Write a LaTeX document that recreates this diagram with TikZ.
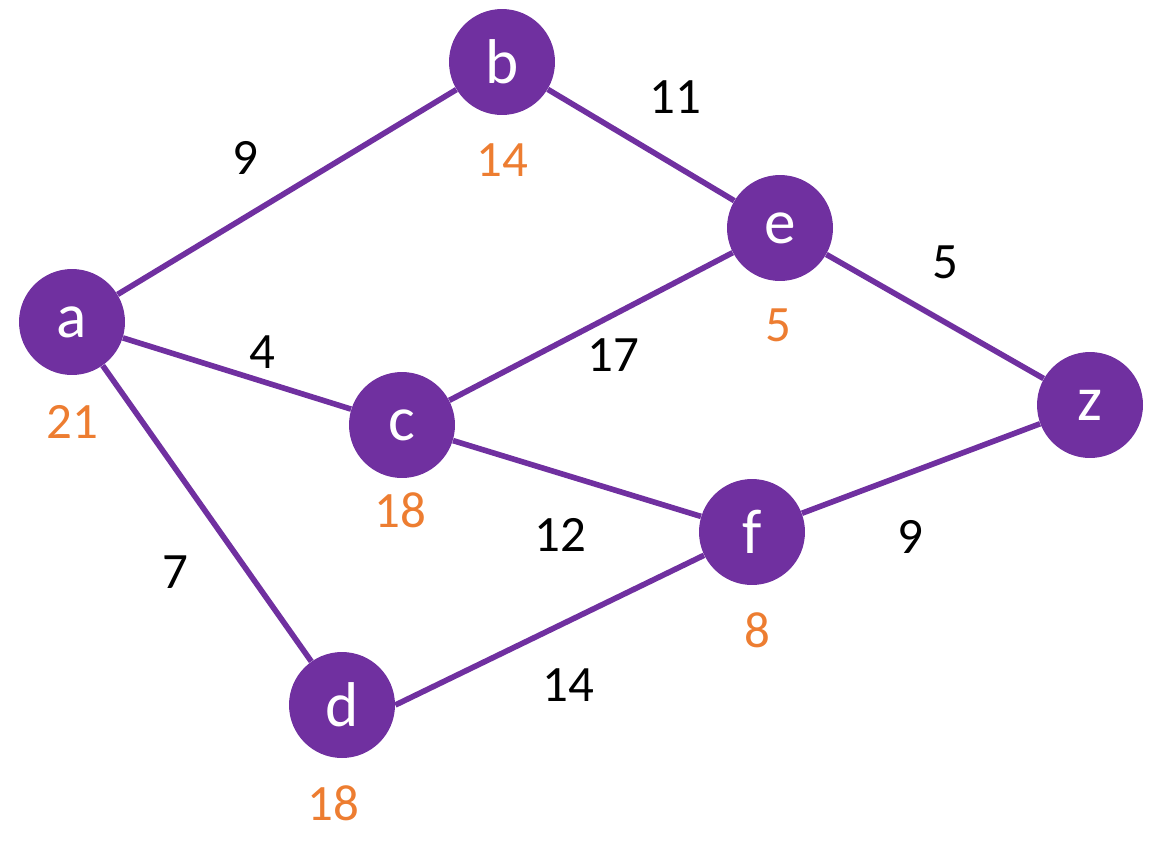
\documentclass[tikz,border=0pt]{standalone}
\usepackage{fontspec}
\setmainfont{Carlito}
\definecolor{pur}{HTML}{7030A0}
\definecolor{org}{HTML}{ED7D31}
\begin{document}
\begin{tikzpicture}[x=0.02cm,y=-0.02cm,
  vtx/.style={circle,fill=pur,minimum size=2.12cm,inner sep=0pt,text=white,font=\fontsize{36}{36}\selectfont},
  edge/.style={pur,line width=3.2pt},
  wt/.style={font=\fontsize{29}{29}\selectfont},
  lab/.style={font=\fontsize{29}{29}\selectfont,text=org}]
\useasboundingbox (0,0) rectangle (1156,842);
\node[vtx] (a) at (72,322) {a};
\node[vtx] (b) at (502,62) {b};
\node[vtx] (e) at (780,228) {e};
\node[vtx] (c) at (402,425) {c};
\node[vtx] (z) at (1090,405) {z};
\node[vtx] (f) at (752,532) {f};
\node[vtx] (d) at (342,705) {d};
\draw[edge] (a) -- (b);
\draw[edge] (b) -- (e);
\draw[edge] (e) -- (z);
\draw[edge] (a) -- (c);
\draw[edge] (c) -- (e);
\draw[edge] (c) -- (f);
\draw[edge] (f) -- (z);
\draw[edge] (a) -- (d);
\draw[edge] (d.east) -- (f);
\node[wt] (w1) at (245,158) {9};
\node[wt] (w2) at (675,97) {11};
\node[wt] (w3) at (945,262) {5};
\node[wt] (w4) at (262,352) {4};
\node[wt] (w5) at (613,355) {17};
\node[wt] (w6) at (560,535) {12};
\node[wt] (w7) at (910,537) {9};
\node[wt] (w8) at (175,572) {7};
\node[wt] (w9) at (568,685) {14};
\node[lab] (l1) at (502,160) {14};
\node[lab] (l2) at (778,325) {5};
\node[lab] (l3) at (72,422) {21};
\node[lab] (l4) at (400,510) {18};
\node[lab] (l5) at (757,630) {8};
\node[lab] (l6) at (333,803) {18};
\end{tikzpicture}
\end{document}
